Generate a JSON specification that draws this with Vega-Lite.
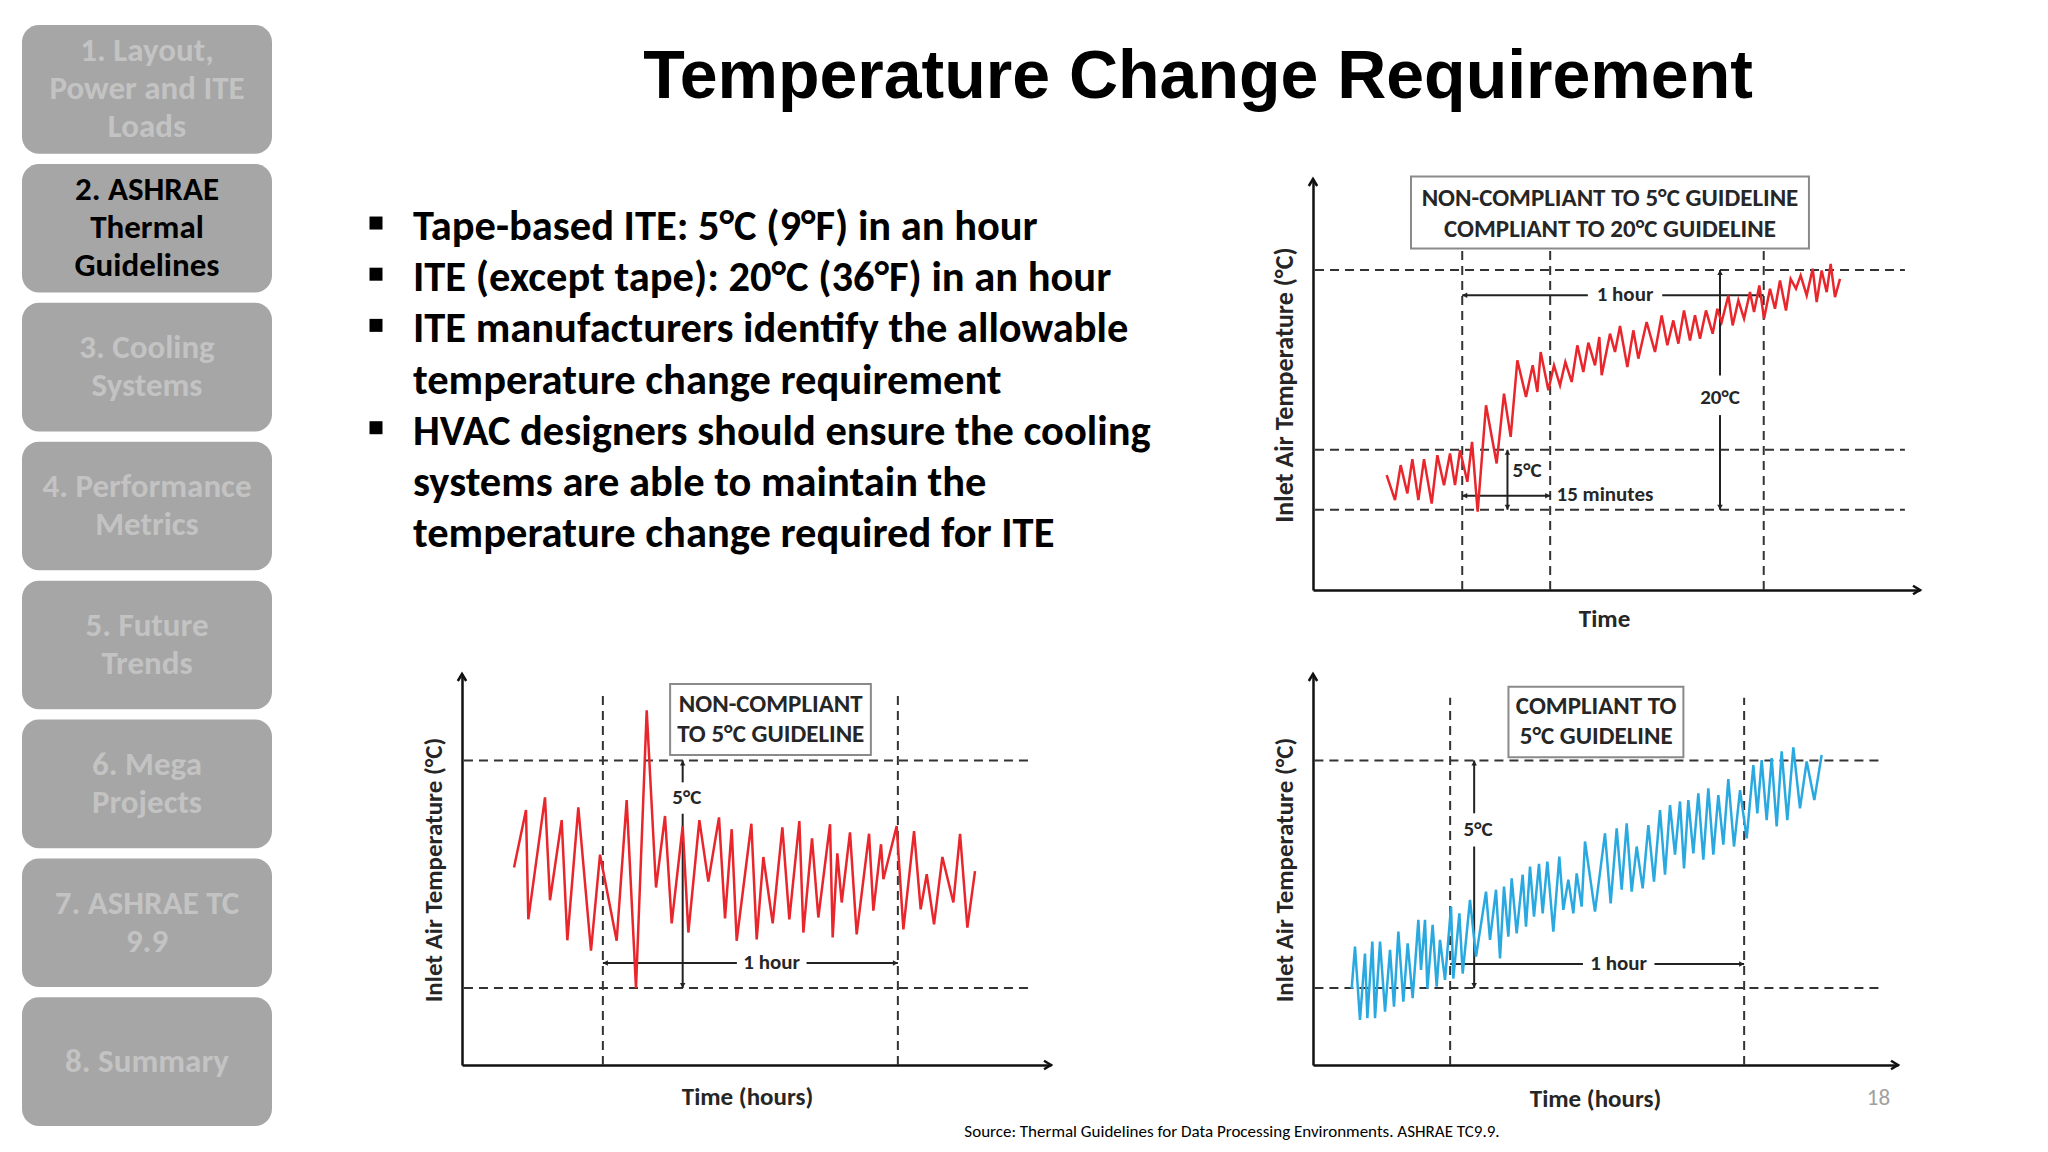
{
  "$schema": "https://vega.github.io/schema/vega-lite/v6.json",
  "background": "white",
  "padding": {"left": 22, "top": 25, "right": 0, "bottom": 0},
  "config": {
    "view": {"stroke": null},
    "axis": {"domainColor": "#111111", "domainWidth": 2.5, "ticks": false, "labels": false, "grid": false, "titleFont": "Carlito, Lato, sans-serif", "titleFontWeight": "bold", "titleFontSize": 25, "titleColor": "#262626", "titlePadding": 16},
    "text": {"font": "Carlito, Lato, sans-serif"}
  },
  "datasets": {
    "menu": [
      {"n": 1, "label": "1. Layout,\nPower and ITE\nLoads", "state": "inactive", "lines": 3},
      {"n": 2, "label": "2. ASHRAE\nThermal\nGuidelines", "state": "active", "lines": 3},
      {"n": 3, "label": "3. Cooling\nSystems", "state": "inactive", "lines": 2},
      {"n": 4, "label": "4. Performance\nMetrics", "state": "inactive", "lines": 2},
      {"n": 5, "label": "5. Future\nTrends", "state": "inactive", "lines": 2},
      {"n": 6, "label": "6. Mega\nProjects", "state": "inactive", "lines": 2},
      {"n": 7, "label": "7. ASHRAE TC\n9.9", "state": "inactive", "lines": 2},
      {"n": 8, "label": "8. Summary", "state": "inactive", "lines": 1}
    ],
    "bullets": [
      {"line": 0, "text": "Tape-based ITE: 5°C (9°F) in an hour", "bullet": true},
      {"line": 1, "text": "ITE (except tape): 20°C (36°F) in an hour", "bullet": true},
      {"line": 2, "text": "ITE manufacturers identify the allowable", "bullet": true},
      {"line": 3, "text": "temperature change requirement", "bullet": false},
      {"line": 4, "text": "HVAC designers should ensure the cooling", "bullet": true},
      {"line": 5, "text": "systems are able to maintain the", "bullet": false},
      {"line": 6, "text": "temperature change required for ITE", "bullet": false}
    ],
    "c1line": [
      {"t":13.86,"v":22.88},{"t":15.52,"v":20.8},{"t":16.65,"v":23.72},{"t":17.98,"v":21.36},{"t":18.97,"v":24.22},{"t":20.17,"v":20.8},{"t":21.29,"v":24.22},{"t":22.82,"v":20.52},{"t":23.95,"v":24.55},{"t":25.27,"v":22.05},{"t":26.47,"v":24.69},{"t":27.46,"v":22.05},{"t":28.46,"v":24.97},{"t":29.92,"v":22.33},{"t":30.85,"v":25.66},{"t":31.97,"v":19.83},{"t":33.63,"v":28.72},{"t":35.75,"v":23.86},{"t":37.21,"v":29.69},{"t":38.54,"v":26.08},{"t":39.87,"v":32.47},{"t":41.59,"v":29.41},{"t":42.92,"v":32.05},{"t":43.85,"v":29.83},{"t":44.51,"v":33.16},{"t":46.04,"v":29.97},{"t":47.16,"v":32.05},{"t":48.36,"v":30.38},{"t":49.42,"v":32.33},{"t":50.68,"v":30.66},{"t":51.81,"v":33.72},{"t":53.0,"v":31.49},{"t":54.0,"v":33.94},{"t":55.32,"v":32.05},{"t":56.18,"v":34.41},{"t":56.65,"v":31.22},{"t":58.31,"v":34.69},{"t":59.3,"v":33.16},{"t":60.3,"v":35.33},{"t":61.76,"v":31.91},{"t":62.95,"v":34.97},{"t":63.95,"v":32.61},{"t":65.6,"v":35.66},{"t":67.26,"v":33.16},{"t":68.59,"v":36.22},{"t":69.72,"v":33.72},{"t":70.91,"v":35.8},{"t":71.91,"v":33.86},{"t":73.03,"v":36.63},{"t":74.23,"v":34.13},{"t":75.22,"v":36.22},{"t":76.22,"v":34.27},{"t":77.41,"v":36.63},{"t":78.74,"v":34.69},{"t":79.67,"v":36.77},{"t":80.53,"v":35.66},{"t":81.86,"v":37.88},{"t":82.72,"v":35.38},{"t":83.85,"v":37.47},{"t":84.98,"v":35.94},{"t":86.17,"v":38.16},{"t":86.97,"v":36.49},{"t":88.03,"v":38.72},{"t":88.96,"v":35.94},{"t":90.15,"v":38.44},{"t":91.14,"v":36.77},{"t":92.14,"v":39.13},{"t":93.33,"v":36.63},{"t":94.26,"v":39.27},{"t":95.32,"v":38.44},{"t":96.25,"v":39.55},{"t":97.45,"v":37.88},{"t":98.64,"v":40.11},{"t":99.44,"v":37.33},{"t":100.43,"v":39.97},{"t":101.43,"v":38.16},{"t":102.22,"v":40.52},{"t":103.08,"v":37.74},{"t":104.08,"v":39.27}
    ],
    "c1dash": [
      {"t":-0.4,"t2":117,"v":20,"v2":20},{"t":-0.4,"t2":117,"v":25,"v2":25},{"t":-0.4,"t2":117,"v":40,"v2":40},
      {"t":28.9,"t2":28.9,"v":13.3,"v2":41.6},{"t":46.4,"t2":46.4,"v":13.3,"v2":41.6},{"t":88.9,"t2":88.9,"v":13.3,"v2":41.6}
    ],
    "c1solid": [
      {"t":28.9,"t2":53.9,"v":37.9,"v2":37.9},{"t":68.7,"t2":88.9,"v":37.9,"v2":37.9},
      {"t":80.2,"t2":80.2,"v":40,"v2":31.2},{"t":80.2,"t2":80.2,"v":27.9,"v2":20},
      {"t":37.9,"t2":37.9,"v":25,"v2":20},{"t":28.9,"t2":46.4,"v":21.16,"v2":21.16}
    ],
    "c1heads": [
      {"t":28.9,"v":37.9,"dir":"left"},{"t":88.9,"v":37.9,"dir":"right"},{"t":80.2,"v":40,"dir":"up"},{"t":80.2,"v":20,"dir":"down"},
      {"t":37.9,"v":25,"dir":"up"},{"t":37.9,"v":20,"dir":"down"},{"t":28.9,"v":21.16,"dir":"left"},{"t":46.4,"v":21.16,"dir":"right"}
    ],
    "c1labels": [
      {"t":61.3,"v":37.9,"label":"1 hour"},{"t":80.2,"v":29.3,"label":"20°C"},{"t":41.8,"v":23.2,"label":"5°C"},{"t":57.3,"v":21.2,"label":"15 minutes"}
    ],
    "c1box": [{"t":18.7,"t2":97.9,"v":41.8,"v2":47.8}],
    "c1boxtext": [
      {"t":58.3,"v":46.05,"label":"NON-COMPLIANT TO 5°C GUIDELINE"},{"t":58.3,"v":43.4,"label":"COMPLIANT TO 20°C GUIDELINE"}
    ],
    "c1axis": [{"t":-0.8,"v":47.6,"dir":"axisup"},{"t":120,"v":13.3,"dir":"axisright"}],
    "c2line": [
      {"t":10.6,"v":22.65},{"t":13.04,"v":23.91},{"t":13.51,"v":21.51},{"t":16.91,"v":24.19},{"t":17.93,"v":21.93},{"t":20.31,"v":23.69},{"t":21.46,"v":21.05},{"t":23.7,"v":23.97},{"t":26.28,"v":20.82},{"t":28.12,"v":22.93},{"t":31.51,"v":21.04},{"t":33.55,"v":24.13},{"t":35.45,"v":20.0},{"t":37.63,"v":26.1},{"t":39.53,"v":22.21},{"t":41.36,"v":23.78},{"t":42.72,"v":21.42},{"t":44.96,"v":23.56},{"t":46.12,"v":21.22},{"t":48.36,"v":23.69},{"t":50.19,"v":22.34},{"t":52.36,"v":23.75},{"t":53.59,"v":21.53},{"t":54.95,"v":23.49},{"t":55.96,"v":21.04},{"t":58.95,"v":23.61},{"t":60.04,"v":21.07},{"t":61.4,"v":22.88},{"t":63.3,"v":21.42},{"t":65.27,"v":23.53},{"t":66.69,"v":21.51},{"t":68.73,"v":23.67},{"t":69.55,"v":21.22},{"t":71.31,"v":23.29},{"t":72.6,"v":21.55},{"t":74.98,"v":23.6},{"t":75.52,"v":21.11},{"t":76.47,"v":22.96},{"t":77.36,"v":21.88},{"t":79.05,"v":23.42},{"t":80.41,"v":21.18},{"t":82.93,"v":23.39},{"t":83.81,"v":21.7},{"t":85.37,"v":23.16},{"t":85.85,"v":22.39},{"t":88.56,"v":23.56},{"t":89.92,"v":21.29},{"t":92.1,"v":23.45},{"t":93.45,"v":21.73},{"t":94.68,"v":22.5},{"t":96.17,"v":21.4},{"t":97.87,"v":22.88},{"t":100.11,"v":21.88},{"t":101.47,"v":23.39},{"t":102.96,"v":21.33},{"t":104.52,"v":22.57}
    ],
    "c2dash": [
      {"t":0.4,"t2":116,"v":20,"v2":20},{"t":0.4,"t2":116,"v":25,"v2":25},
      {"t":28.7,"t2":28.7,"v":18.31,"v2":26.42},{"t":88.8,"t2":88.8,"v":18.31,"v2":26.42}
    ],
    "c2solid": [
      {"t":44.96,"t2":44.96,"v":25,"v2":24.52},{"t":44.96,"t2":44.96,"v":23.83,"v2":20},
      {"t":28.7,"t2":56,"v":20.55,"v2":20.55},{"t":70.2,"t2":88.8,"v":20.55,"v2":20.55}
    ],
    "c2heads": [
      {"t":44.96,"v":25,"dir":"up"},{"t":44.96,"v":20,"dir":"down"},{"t":28.7,"v":20.55,"dir":"left"},{"t":88.8,"v":20.55,"dir":"right"}
    ],
    "c2labels": [{"t":45.8,"v":24.18,"label":"5°C"},{"t":63.1,"v":20.55,"label":"1 hour"}],
    "c2box": [{"t":42.4,"t2":83.3,"v":25.12,"v2":26.68}],
    "c2boxtext": [{"t":62.9,"v":26.24,"label":"NON-COMPLIANT"},{"t":62.9,"v":25.58,"label":"TO 5°C GUIDELINE"}],
    "c2axis": [{"t":0,"v":26.9,"dir":"axisup"},{"t":120,"v":18.31,"dir":"axisright"}],
    "c3line": [
      {"t":8.5,"v":19.99},{"t":9.18,"v":20.91},{"t":10.2,"v":19.3},{"t":11.22,"v":20.76},{"t":11.7,"v":19.34},{"t":12.72,"v":21.02},{"t":13.27,"v":19.34},{"t":14.29,"v":21.02},{"t":15.31,"v":19.48},{"t":16.33,"v":20.84},{"t":17.14,"v":19.59},{"t":18.03,"v":21.24},{"t":19.05,"v":19.7},{"t":19.93,"v":20.98},{"t":20.95,"v":19.78},{"t":22.11,"v":21.5},{"t":22.65,"v":20.4},{"t":23.47,"v":21.5},{"t":23.95,"v":19.99},{"t":25.03,"v":21.39},{"t":25.85,"v":20.03},{"t":26.53,"v":21.06},{"t":27.55,"v":20.18},{"t":28.78,"v":21.79},{"t":29.25,"v":20.21},{"t":30.48,"v":21.64},{"t":31.16,"v":20.32},{"t":32.65,"v":21.94},{"t":33.88,"v":20.69},{"t":35.92,"v":22.12},{"t":36.73,"v":21.06},{"t":37.96,"v":22.16},{"t":38.78,"v":20.65},{"t":39.59,"v":22.23},{"t":40.48,"v":21.13},{"t":41.16,"v":22.41},{"t":42.18,"v":21.2},{"t":43.4,"v":22.49},{"t":44.08,"v":21.35},{"t":44.9,"v":22.67},{"t":45.71,"v":21.57},{"t":46.73,"v":22.73},{"t":47.48,"v":21.64},{"t":48.44,"v":22.78},{"t":49.66,"v":21.24},{"t":50.88,"v":22.89},{"t":51.7,"v":21.72},{"t":52.72,"v":22.38},{"t":53.74,"v":21.64},{"t":54.42,"v":22.52},{"t":55.44,"v":21.79},
      {"t":56.12,"v":23.22},{"t":58.16,"v":21.68},{"t":60.2,"v":23.4},{"t":61.36,"v":21.86},{"t":62.59,"v":23.51},{"t":63.61,"v":22.16},{"t":64.63,"v":23.62},{"t":65.65,"v":22.12},{"t":66.67,"v":23.11},{"t":67.89,"v":22.19},{"t":69.05,"v":23.58},{"t":70.2,"v":22.34},{"t":71.43,"v":23.91},{"t":72.45,"v":22.49},{"t":73.47,"v":24.02},{"t":74.49,"v":22.93},{"t":75.51,"v":24.1},{"t":76.33,"v":22.63},{"t":77.21,"v":24.13},{"t":78.23,"v":22.96},{"t":79.25,"v":24.28},{"t":80.27,"v":22.82},{"t":81.29,"v":24.39},{"t":82.31,"v":22.93},{"t":83.33,"v":24.24},{"t":84.35,"v":23.15},{"t":85.37,"v":24.59},{"t":86.53,"v":23.11},{"t":87.76,"v":24.35},{"t":89.12,"v":23.29},{"t":90.48,"v":24.9},{"t":91.29,"v":23.84},{"t":92.18,"v":25.01},{"t":93.2,"v":23.69},{"t":94.22,"v":25.05},{"t":95.24,"v":23.55},{"t":96.26,"v":25.2},{"t":97.41,"v":23.69},{"t":98.64,"v":25.29},{"t":100.0,"v":23.95},{"t":101.36,"v":24.98},{"t":102.92,"v":24.13},{"t":104.42,"v":25.12}
    ],
    "c3dash": [
      {"t":0.9,"t2":116.3,"v":20,"v2":20},{"t":0.9,"t2":116.3,"v":25,"v2":25},
      {"t":28.6,"t2":28.6,"v":18.31,"v2":26.38},{"t":88.6,"t2":88.6,"v":18.31,"v2":26.38}
    ],
    "c3solid": [
      {"t":33.5,"t2":33.5,"v":25,"v2":23.84},{"t":33.5,"t2":33.5,"v":23.11,"v2":20},
      {"t":28.6,"t2":55.7,"v":20.53,"v2":20.53},{"t":70.3,"t2":88.6,"v":20.53,"v2":20.53}
    ],
    "c3heads": [
      {"t":33.5,"v":25,"dir":"up"},{"t":33.5,"v":20,"dir":"down"},{"t":28.6,"v":20.53,"dir":"left"},{"t":88.6,"v":20.53,"dir":"right"}
    ],
    "c3labels": [{"t":34.3,"v":23.47,"label":"5°C"},{"t":63,"v":20.53,"label":"1 hour"}],
    "c3box": [{"t":40.5,"t2":76.2,"v":25.07,"v2":26.62}],
    "c3boxtext": [{"t":58.4,"v":26.19,"label":"COMPLIANT TO"},{"t":58.4,"v":25.53,"label":"5°C GUIDELINE"}],
    "c3axis": [{"t":0.61,"v":26.9,"dir":"axisup"},{"t":120,"v":18.31,"dir":"axisright"}],
    "c3page": [{"t":116,"v":17.58,"label":"18"}]
  },
  "bounds": "flush",
  "spacing": 190,
  "resolve": {"scale": {"x": "independent", "y": "independent", "color": "independent", "shape": "independent"}},
  "hconcat": [
    {
      "width": 250,
      "height": 1101,
      "data": {"name": "menu"},
      "encoding": {"y": {"field": "n", "type": "ordinal", "axis": null, "scale": {"paddingInner": 0.074, "paddingOuter": 0}}},
      "layer": [
        {"mark": {"type": "rect", "cornerRadius": 17, "color": "#a6a6a6"}, "encoding": {"x": {"value": 0}, "x2": {"value": "width"}}},
        {
          "transform": [{"filter": "datum.lines == 3"}],
          "mark": {"type": "text", "fontWeight": "bold", "fontSize": 33, "lineHeight": 38, "lineBreak": "\n", "align": "center", "baseline": "middle", "x": 125, "dy": -38},
          "encoding": {
            "text": {"field": "label"},
            "color": {"field": "state", "type": "nominal", "scale": {"domain": ["active", "inactive"], "range": ["#000000", "#c3c3c3"]}, "legend": null}
          }
        },
        {
          "transform": [{"filter": "datum.lines == 2"}],
          "mark": {"type": "text", "fontWeight": "bold", "fontSize": 33, "lineHeight": 38, "lineBreak": "\n", "align": "center", "baseline": "middle", "x": 125, "dy": -19},
          "encoding": {
            "text": {"field": "label"},
            "color": {"field": "state", "type": "nominal", "scale": {"domain": ["active", "inactive"], "range": ["#000000", "#c3c3c3"]}, "legend": null}
          }
        },
        {
          "transform": [{"filter": "datum.lines == 1"}],
          "mark": {"type": "text", "fontWeight": "bold", "fontSize": 33, "lineHeight": 38, "lineBreak": "\n", "align": "center", "baseline": "middle", "x": 125},
          "encoding": {
            "text": {"field": "label"},
            "color": {"field": "state", "type": "nominal", "scale": {"domain": ["active", "inactive"], "range": ["#000000", "#c3c3c3"]}, "legend": null}
          }
        }
      ]
    },
    {
      "hconcat": [
        {
          "vconcat": [
            {
              "width": 800,
              "height": 594,
              "data": {"name": "bullets"},
              "encoding": {"y": {"field": "line", "type": "quantitative", "axis": null, "scale": {"domain": [-3.948, 7.66], "reverse": true, "nice": false, "zero": false}}},
              "layer": [
                {"transform": [{"filter": "datum.bullet"}], "mark": {"type": "point", "shape": "square", "filled": true, "color": "#000000", "opacity": 1, "size": 169, "x": -86, "yOffset": -4}},
                {"mark": {"type": "text", "align": "left", "baseline": "middle", "fontSize": 42.5, "fontWeight": "bold", "color": "#000000", "x": -49}, "encoding": {"text": {"field": "text"}}}
              ]
            },
            {
              "width": 589,
              "height": 391,
              "encoding": {
                "x": {"field": "t", "type": "quantitative", "scale": {"domain": [0, 120], "nice": false, "zero": false}, "axis": {"title": "Time (hours)", "titlePadding": 19, "titleX": 285}},
                "y": {"field": "v", "type": "quantitative", "scale": {"domain": [18.31, 26.9], "nice": false, "zero": false}, "axis": {"title": "Inlet Air Temperature (°C)"}}
              },
              "layer": [
                {"data": {"name": "c2dash"}, "mark": {"type": "rule", "strokeDash": [9, 6], "strokeWidth": 2, "color": "#333333"}, "encoding": {"x2": {"field": "t2"}, "y2": {"field": "v2"}}},
                {"data": {"name": "c2box"}, "mark": {"type": "rect", "fill": "#ffffff", "stroke": "#8a8a8a", "strokeWidth": 2}, "encoding": {"x2": {"field": "t2"}, "y2": {"field": "v2"}}},
                {"data": {"name": "c2boxtext"}, "mark": {"type": "text", "fontSize": 25, "fontWeight": "bold", "color": "#262626", "baseline": "middle"}, "encoding": {"text": {"field": "label"}}},
                {"data": {"name": "c2solid"}, "mark": {"type": "rule", "strokeWidth": 2, "color": "#222222"}, "encoding": {"x2": {"field": "t2"}, "y2": {"field": "v2"}}},
                {"data": {"name": "c2heads"}, "mark": {"type": "point", "filled": true, "color": "#222222", "opacity": 1, "size": 100}, "encoding": {"shape": {"field": "dir", "type": "nominal", "legend": null, "scale": {"domain": ["up", "down", "left", "right", "axisup", "axisright"], "range": ["M0,0L0.55,1L-0.55,1Z", "M0,0L0.55,-1L-0.55,-1Z", "M0,0L1,-0.55L1,0.55Z", "M0,0L-1,-0.55L-1,0.55Z", "M-0.6,1L0,0L0.6,1", "M-1,-0.6L0,0L-1,0.6"]}}}},
                {"data": {"name": "c2labels"}, "mark": {"type": "text", "fontSize": 21, "fontWeight": "bold", "color": "#262626", "baseline": "middle"}, "encoding": {"text": {"field": "label"}}},
                {"data": {"name": "c2line"}, "mark": {"type": "line", "color": "#e8262c", "strokeWidth": 2.5}, "encoding": {}},
                {"data": {"name": "c2axis"}, "mark": {"type": "point", "filled": false, "color": "#111111", "strokeWidth": 2.5, "opacity": 1, "size": 196}, "encoding": {"shape": {"field": "dir", "type": "nominal", "legend": null, "scale": {"domain": ["up", "down", "left", "right", "axisup", "axisright"], "range": ["M0,0L0.55,1L-0.55,1Z", "M0,0L0.55,-1L-0.55,-1Z", "M0,0L1,-0.55L1,0.55Z", "M0,0L-1,-0.55L-1,0.55Z", "M-0.6,1L0,0L0.6,1", "M-1,-0.6L0,0L-1,0.6"]}}}}
              ]
            },
            {
              "width": 1540,
              "height": 24,
              "data": {"values": [{"src": "Source: Thermal Guidelines for Data Processing Environments. ASHRAE TC9.9."}]},
              "mark": {"type": "text", "fontSize": 17, "color": "#000000", "align": "center", "baseline": "middle", "x": 770, "y": 12},
              "encoding": {"text": {"field": "src"}}
            }
          ],
          "spacing": 55,
          "bounds": "flush",
          "resolve": {"scale": {"x": "independent", "y": "independent", "color": "independent", "shape": "independent"}}
        },
        {
          "vconcat": [
            {
              "width": 607,
              "height": 70,
              "data": {"values": [{"title": "Temperature Change Requirement"}]},
              "mark": {"type": "text", "font": "Liberation Sans, Arial, sans-serif", "fontWeight": "bold", "fontSize": 68, "color": "#000000", "align": "center", "baseline": "alphabetic", "x": -115, "y": "height", "dy": 3},
              "encoding": {"text": {"field": "title"}}
            },
            {
              "width": 607,
              "height": 411,
              "encoding": {
                "x": {"field": "t", "type": "quantitative", "scale": {"domain": [-0.8, 120], "nice": false, "zero": false}, "axis": {"title": "Time", "titlePadding": 16, "titleX": 291}},
                "y": {"field": "v", "type": "quantitative", "scale": {"domain": [13.3, 47.6], "nice": false, "zero": false}, "axis": {"title": "Inlet Air Temperature (°C)", "titleFontSize": 26}}
              },
              "layer": [
                {"data": {"name": "c1dash"}, "mark": {"type": "rule", "strokeDash": [9, 6], "strokeWidth": 2, "color": "#333333"}, "encoding": {"x2": {"field": "t2"}, "y2": {"field": "v2"}}},
                {"data": {"name": "c1box"}, "mark": {"type": "rect", "fill": "#ffffff", "stroke": "#8a8a8a", "strokeWidth": 2}, "encoding": {"x2": {"field": "t2"}, "y2": {"field": "v2"}}},
                {"data": {"name": "c1boxtext"}, "mark": {"type": "text", "fontSize": 25, "fontWeight": "bold", "color": "#262626", "baseline": "middle"}, "encoding": {"text": {"field": "label"}}},
                {"data": {"name": "c1solid"}, "mark": {"type": "rule", "strokeWidth": 2, "color": "#222222"}, "encoding": {"x2": {"field": "t2"}, "y2": {"field": "v2"}}},
                {"data": {"name": "c1heads"}, "mark": {"type": "point", "filled": true, "color": "#222222", "opacity": 1, "size": 100}, "encoding": {"shape": {"field": "dir", "type": "nominal", "legend": null, "scale": {"domain": ["up", "down", "left", "right", "axisup", "axisright"], "range": ["M0,0L0.55,1L-0.55,1Z", "M0,0L0.55,-1L-0.55,-1Z", "M0,0L1,-0.55L1,0.55Z", "M0,0L-1,-0.55L-1,0.55Z", "M-0.6,1L0,0L0.6,1", "M-1,-0.6L0,0L-1,0.6"]}}}},
                {"data": {"name": "c1labels"}, "mark": {"type": "text", "fontSize": 21, "fontWeight": "bold", "color": "#262626", "baseline": "middle"}, "encoding": {"text": {"field": "label"}}},
                {"data": {"name": "c1line"}, "mark": {"type": "line", "color": "#e8262c", "strokeWidth": 2.5}, "encoding": {}},
                {"data": {"name": "c1axis"}, "mark": {"type": "point", "filled": false, "color": "#111111", "strokeWidth": 2.5, "opacity": 1, "size": 196}, "encoding": {"shape": {"field": "dir", "type": "nominal", "legend": null, "scale": {"domain": ["up", "down", "left", "right", "axisup", "axisright"], "range": ["M0,0L0.55,1L-0.55,1Z", "M0,0L0.55,-1L-0.55,-1Z", "M0,0L1,-0.55L1,0.55Z", "M0,0L-1,-0.55L-1,0.55Z", "M-0.6,1L0,0L0.6,1", "M-1,-0.6L0,0L-1,0.6"]}}}}
              ]
            },
            {
              "width": 585,
              "height": 391,
              "encoding": {
                "x": {"field": "t", "type": "quantitative", "scale": {"domain": [0.61, 120], "nice": false, "zero": false}, "axis": {"title": "Time (hours)", "titlePadding": 21, "titleX": 282}},
                "y": {"field": "v", "type": "quantitative", "scale": {"domain": [18.31, 26.9], "nice": false, "zero": false}, "axis": {"title": "Inlet Air Temperature (°C)"}}
              },
              "layer": [
                {"data": {"name": "c3dash"}, "mark": {"type": "rule", "strokeDash": [9, 6], "strokeWidth": 2, "color": "#333333"}, "encoding": {"x2": {"field": "t2"}, "y2": {"field": "v2"}}},
                {"data": {"name": "c3box"}, "mark": {"type": "rect", "fill": "#ffffff", "stroke": "#8a8a8a", "strokeWidth": 2}, "encoding": {"x2": {"field": "t2"}, "y2": {"field": "v2"}}},
                {"data": {"name": "c3boxtext"}, "mark": {"type": "text", "fontSize": 25, "fontWeight": "bold", "color": "#262626", "baseline": "middle"}, "encoding": {"text": {"field": "label"}}},
                {"data": {"name": "c3solid"}, "mark": {"type": "rule", "strokeWidth": 2, "color": "#222222"}, "encoding": {"x2": {"field": "t2"}, "y2": {"field": "v2"}}},
                {"data": {"name": "c3heads"}, "mark": {"type": "point", "filled": true, "color": "#222222", "opacity": 1, "size": 100}, "encoding": {"shape": {"field": "dir", "type": "nominal", "legend": null, "scale": {"domain": ["up", "down", "left", "right", "axisup", "axisright"], "range": ["M0,0L0.55,1L-0.55,1Z", "M0,0L0.55,-1L-0.55,-1Z", "M0,0L1,-0.55L1,0.55Z", "M0,0L-1,-0.55L-1,0.55Z", "M-0.6,1L0,0L0.6,1", "M-1,-0.6L0,0L-1,0.6"]}}}},
                {"data": {"name": "c3labels"}, "mark": {"type": "text", "fontSize": 21, "fontWeight": "bold", "color": "#262626", "baseline": "middle"}, "encoding": {"text": {"field": "label"}}},
                {"data": {"name": "c3page"}, "mark": {"type": "text", "fontSize": 23, "color": "#a0a0a0", "baseline": "middle"}, "encoding": {"text": {"field": "label"}}},
                {"data": {"name": "c3line"}, "mark": {"type": "line", "color": "#29a9e0", "strokeWidth": 2.5}, "encoding": {}},
                {"data": {"name": "c3axis"}, "mark": {"type": "point", "filled": false, "color": "#111111", "strokeWidth": 2.5, "opacity": 1, "size": 196}, "encoding": {"shape": {"field": "dir", "type": "nominal", "legend": null, "scale": {"domain": ["up", "down", "left", "right", "axisup", "axisright"], "range": ["M0,0L0.55,1L-0.55,1Z", "M0,0L0.55,-1L-0.55,-1Z", "M0,0L1,-0.55L1,0.55Z", "M0,0L-1,-0.55L-1,0.55Z", "M-0.6,1L0,0L0.6,1", "M-1,-0.6L0,0L-1,0.6"]}}}}
              ]
            }
          ],
          "spacing": 84,
          "bounds": "flush",
          "resolve": {"scale": {"x": "independent", "y": "independent", "color": "independent", "shape": "independent"}}
        }
      ],
      "spacing": 851,
      "bounds": "flush",
      "resolve": {"scale": {"x": "independent", "y": "independent", "color": "independent", "shape": "independent"}}
    }
  ]
}
